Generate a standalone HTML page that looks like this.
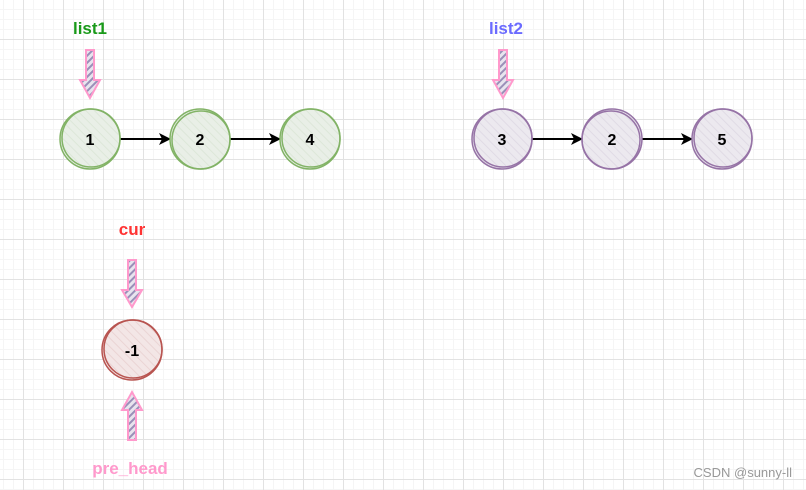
<!DOCTYPE html>
<html><head><meta charset="utf-8"><style>
html,body{margin:0;padding:0;}
body{width:806px;height:490px;overflow:hidden;background:#fff;
background-image:
linear-gradient(#e2e2e2 1px,transparent 1px),
linear-gradient(90deg,#e2e2e2 1px,transparent 1px),
linear-gradient(#f5f5f5 1px,transparent 1px),
linear-gradient(90deg,#f5f5f5 1px,transparent 1px);
background-size:40px 40px,40px 40px,10px 10px,10px 10px;
background-position:0 -1px,23px 0,0 -1px,23px 0;}
svg{position:absolute;left:0;top:0}
text{font-family:"Liberation Sans",sans-serif;font-weight:bold}
</style></head><body>
<svg width="806" height="490" viewBox="0 0 806 490">
<defs>
<pattern id="h" width="5" height="5" patternUnits="userSpaceOnUse" patternTransform="rotate(45)">
<rect width="5" height="5" fill="#e8e4ee"/><rect width="2" height="5" fill="#9a8fb8"/></pattern>
<pattern id="g" width="6" height="6" patternUnits="userSpaceOnUse" patternTransform="rotate(-45)">
<rect width="6" height="6" fill="#e9efe7"/><rect width="1" height="6" fill="#dde7d9"/></pattern>
<pattern id="p" width="6" height="6" patternUnits="userSpaceOnUse" patternTransform="rotate(-45)">
<rect width="6" height="6" fill="#ece9ef"/><rect width="1" height="6" fill="#e0dbe5"/></pattern>
<pattern id="r" width="6" height="6" patternUnits="userSpaceOnUse" patternTransform="rotate(-45)">
<rect width="6" height="6" fill="#f3e6e6"/><rect width="1" height="6" fill="#ead4d4"/></pattern>
<marker id="a" markerWidth="12" markerHeight="12" refX="11" refY="6" orient="auto" markerUnits="userSpaceOnUse">
<path d="M0,0 L12,6 L0,12 L3,6z" fill="#000"/></marker>
</defs>
<text x="90" y="34" fill="#1a9a1a" font-size="17" text-anchor="middle">list1</text>
<text x="506" y="34" fill="#6b6bff" font-size="17" text-anchor="middle">list2</text>
<text x="132" y="235" fill="#ff3333" font-size="17" text-anchor="middle">cur</text>
<text x="130" y="474" fill="#ff99cc" font-size="17" text-anchor="middle">pre_head</text>
<g stroke="#ff99cc" stroke-width="2" fill="url(#h)">
<path d="M86,50 h8 v30 h6 l-10,18 l-10,-18 h6z"/>
<path d="M499,50 h8 v30 h6 l-10,18 l-10,-18 h6z"/>
<path d="M128,260 h8 v30 h6 l-10,17 l-10,-17 h6z"/>
<path d="M128,440 h8 v-30 h6 l-10,-18 l-10,18 h6z"/>
</g>
<g stroke="#000" stroke-width="2" marker-end="url(#a)">
<line x1="120" y1="139" x2="170" y2="139"/>
<line x1="230" y1="139" x2="280" y2="139"/>
<line x1="532" y1="139" x2="582" y2="139"/>
<line x1="642" y1="139" x2="692" y2="139"/>
</g>
<g stroke-width="1.5">
<g stroke="#82b366">
<circle cx="90" cy="139" r="30" fill="url(#g)"/><circle cx="91" cy="138" r="29" fill="none"/>
<circle cx="200" cy="139" r="30" fill="url(#g)"/><circle cx="201" cy="140" r="29" fill="none"/>
<circle cx="310" cy="139" r="30" fill="url(#g)"/><circle cx="311" cy="138" r="29" fill="none"/>
</g>
<g stroke="#9673a6">
<circle cx="502" cy="139" r="30" fill="url(#p)"/><circle cx="503" cy="138" r="29" fill="none"/>
<circle cx="612" cy="139" r="30" fill="url(#p)"/><circle cx="611" cy="140" r="29" fill="none"/>
<circle cx="722" cy="139" r="30" fill="url(#p)"/><circle cx="723" cy="138" r="29" fill="none"/>
</g>
<g stroke="#b85450">
<circle cx="132" cy="350" r="30" fill="url(#r)"/><circle cx="133" cy="349" r="29" fill="none"/>
</g>
</g>
<g font-size="16" text-anchor="middle" fill="#000">
<text x="90" y="145">1</text><text x="200" y="145">2</text><text x="310" y="145">4</text>
<text x="502" y="145">3</text><text x="612" y="145">2</text><text x="722" y="145">5</text>
<text x="132" y="356">-1</text>
</g>
<text x="792" y="477" fill="#999" font-size="13" text-anchor="end" style="font-weight:normal">CSDN @sunny-ll</text>
</svg>
</body></html>
